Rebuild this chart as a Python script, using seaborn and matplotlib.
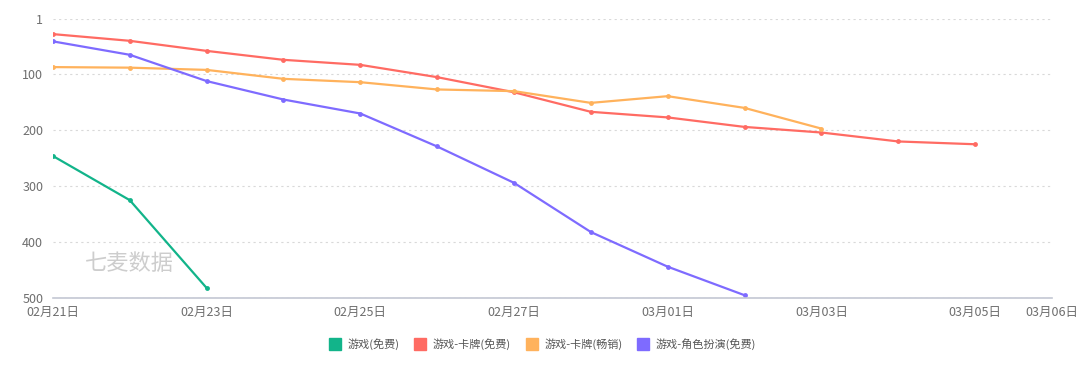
import pandas as pd
import matplotlib
matplotlib.use("Agg")
import matplotlib.pyplot as plt
from matplotlib.lines import Line2D
import seaborn as sns

# Daily rank values (lower rank number = better)
dates = pd.date_range("2023-02-21", "2023-03-05", freq="D")

games_free = [246, 325, 482]
card_free = [28, 40, 58, 74, 83, 105, 132, 167, 177, 194, 204, 220, 225]
card_grossing = [87, 88, 92, 108, 114, 127, 130, 151, 139, 160, 197]
rpg_free = [41, 65, 112, 145, 170, 229, 294, 382, 444, 495]

series_names = ["游戏(免费)", "游戏-卡牌(免费)", "游戏-卡牌(畅销)", "游戏-角色扮演(免费)"]
series_values = [games_free, card_free, card_grossing, rpg_free]
colors = ["#12b48a", "#ff6b63", "#ffb25c", "#7e6bff"]

tick_dates = ["2023-02-21", "2023-02-23", "2023-02-25", "2023-02-27",
              "2023-03-01", "2023-03-03", "2023-03-05", "2023-03-06"]
tick_labels = ["02月21日", "02月23日", "02月25日", "02月27日",
               "03月01日", "03月03日", "03月05日", "03月06日"]
y_ticks = [1, 100, 200, 300, 400, 500]

# Long-format table for seaborn
frames = []
for name, vals in zip(series_names, series_values):
    frames.append(pd.DataFrame({"date": dates[:len(vals)], "rank": vals, "series": name}))
df = pd.concat(frames, ignore_index=True)

sns.set_theme(style="white")
plt.rcParams["font.family"] = ["Noto Sans CJK SC", "DejaVu Sans"]

fig = plt.figure(figsize=(10.8, 3.75), dpi=100)
ax = fig.add_axes([0.049, 0.2053, 0.925, 0.744])

sns.lineplot(data=df, x="date", y="rank", hue="series", hue_order=series_names,
             palette=colors, linewidth=1.6, marker="o", markersize=3.5,
             markeredgewidth=0, ax=ax, legend=False)

ax.set_ylim(500, 1)
ax.set_xlim(pd.Timestamp("2023-02-21"), pd.Timestamp("2023-03-06"))
ax.set_yticks(y_ticks)
ax.set_yticklabels([str(v) for v in y_ticks])
ax.set_xticks(pd.to_datetime(tick_dates))
ax.set_xticklabels(tick_labels)
ax.tick_params(axis="both", length=0, labelsize=9, colors="#6e6e6e")
ax.tick_params(axis="y", pad=7)
ax.tick_params(axis="x", pad=5.5)

ax.set_xlabel("")
ax.set_ylabel("")
ax.yaxis.grid(True, linestyle=(0, (2, 3)), color="#d9d9d9", linewidth=0.8)
ax.xaxis.grid(False)
for side in ["top", "right", "left"]:
    ax.spines[side].set_visible(False)
ax.spines["bottom"].set_color("#c3c7d3")
ax.spines["bottom"].set_linewidth(1.2)

# watermark
fig.text(0.079, 0.298, "七麦数据", fontsize=16, color="#cdcdcd",
         fontweight="medium", va="center")

handles = [Line2D([0], [0], marker="s", linestyle="none", markersize=9,
                  markerfacecolor=c, markeredgecolor=c) for c in colors]
fig.legend(handles, series_names, loc="center", bbox_to_anchor=(0.5, 0.083),
           ncol=4, frameon=False, fontsize=8, handletextpad=0.1,
           columnspacing=0.9, labelcolor="#555555")

fig.savefig("out.png", dpi=100)
